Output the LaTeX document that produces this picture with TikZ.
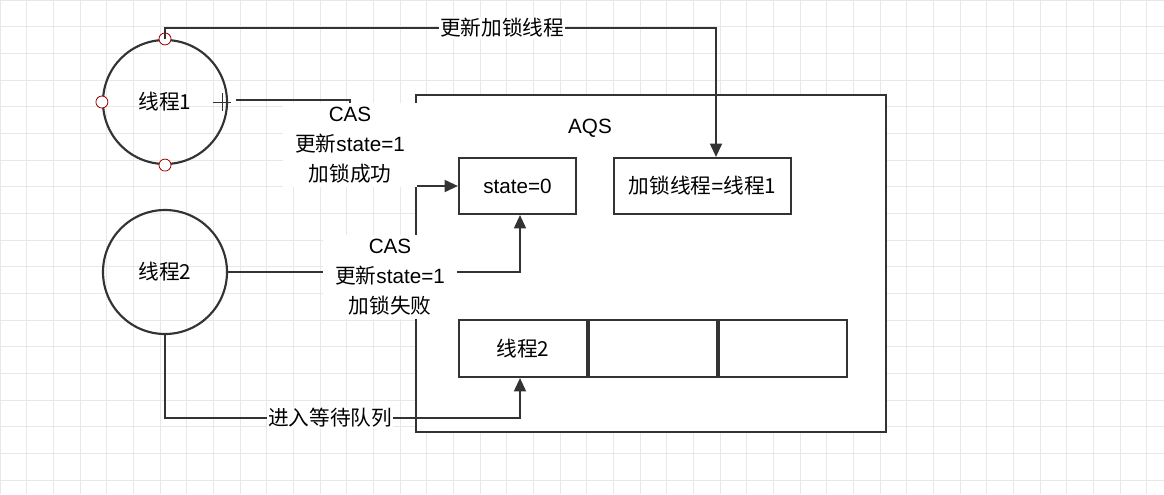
\documentclass[tikz,border=0pt]{standalone}
\usepackage{fontspec}
\setmainfont{Liberation Sans}
\newfontfamily\cjk{Noto Sans CJK SC}
\usetikzlibrary{arrows.meta}
\definecolor{ln}{HTML}{333333}
\tikzset{x=0.75pt,y=-0.75pt,
 conn/.style={draw=ln,line width=1.4pt},
 arr/.style={conn,-{Triangle[length=10pt,width=9pt]}},
 box/.style={draw=ln,line width=1.6pt,minimum width=117*0.75pt,minimum height=56*0.75pt,inner sep=0pt},
 thr/.style={draw=ln,line width=1.6pt,circle,minimum size=124*0.75pt,inner sep=0pt},
 lab/.style={fill=white,inner sep=1pt,align=center,font=\fontsize{15.5}{22.5}\selectfont},
 wlab/.style={lab,text width=132*0.75pt,inner ysep=3pt},
 handle/.style={draw=red!60!black,fill=white,circle,minimum size=9pt,inner sep=0pt,line width=0.6pt}}
\begin{document}
\begin{tikzpicture}[font=\fontsize{15.5}{22.5}\selectfont]
\fill[white] (0,0) rectangle (1164,494);
\useasboundingbox (0,0) rectangle (1164,494);
\draw[gray!18,line width=0.4pt] (0,0) grid[step=20pt] (1164,494);
% AQS
\node[draw=ln,line width=1.6pt,fill=white,minimum width=470*0.75pt,minimum height=337*0.75pt,inner sep=0pt] (aqs) at (651,263.5) {};
\node at (590,128) {AQS};
\node[box] (st) at (517.5,186) {state=0};
\node[box,minimum width=177*0.75pt] (lk) at (702.5,186) {{\cjk 加锁线程}=\cjk 线程1};
\node[box,minimum width=128*0.75pt,minimum height=57*0.75pt] (q1) at (523,348.5) {\cjk 线程2};
\node[box,minimum width=128*0.75pt,minimum height=57*0.75pt,anchor=west] (q2) at (q1.east) {};
\node[box,minimum width=128*0.75pt,minimum height=57*0.75pt,anchor=west] (q3) at (q2.east) {};
% threads
\node[thr,font=\fontsize{15.5}{22.5}\selectfont\cjk] (t1) at (165,102) {线程1};
\node[thr,font=\fontsize{15.5}{22.5}\selectfont\cjk] (t2) at (165,272) {线程2};
\foreach \a in {north,south,west} \node[handle] at (t1.\a) {};
\draw[ln,line width=0.7pt] (222,93) -- (222,111) (213,102) -- (231,102);
% connectors
\coordinate (c1) at (165,28);
\coordinate (c2) at (716,28);
\draw[arr] (t1.north) -- (c1) -- (c2) -- (c2 |- lk.north);
\node[lab,font=\fontsize{15.5}{22.5}\selectfont\cjk] at (502,28) {更新加锁线程};
\coordinate (c3) at (350,100);
\coordinate (c4) at (350,186);
\draw[arr] (t1.east) ++(8,-2) -- (c3) -- (c4) -- (st.west);
\node[wlab] at (350,145) {CAS\\{\cjk 更新}state=1\\{\cjk 加锁成功}};
\coordinate (c5) at (520,272);
\draw[arr] (t2.east) -- (c5) -- (c5 |- st.south);
\node[wlab] at (390,277) {CAS\\{\cjk 更新}state=1\\{\cjk 加锁失败}};
\coordinate (c6) at (165,418);
\coordinate (c7) at (520,418);
\draw[arr] (t2.south) -- (c6) -- (c7) -- (c7 |- q1.south);
\node[lab,font=\fontsize{15.5}{22.5}\selectfont\cjk] at (330,418) {进入等待队列};
\end{tikzpicture}
\end{document}
